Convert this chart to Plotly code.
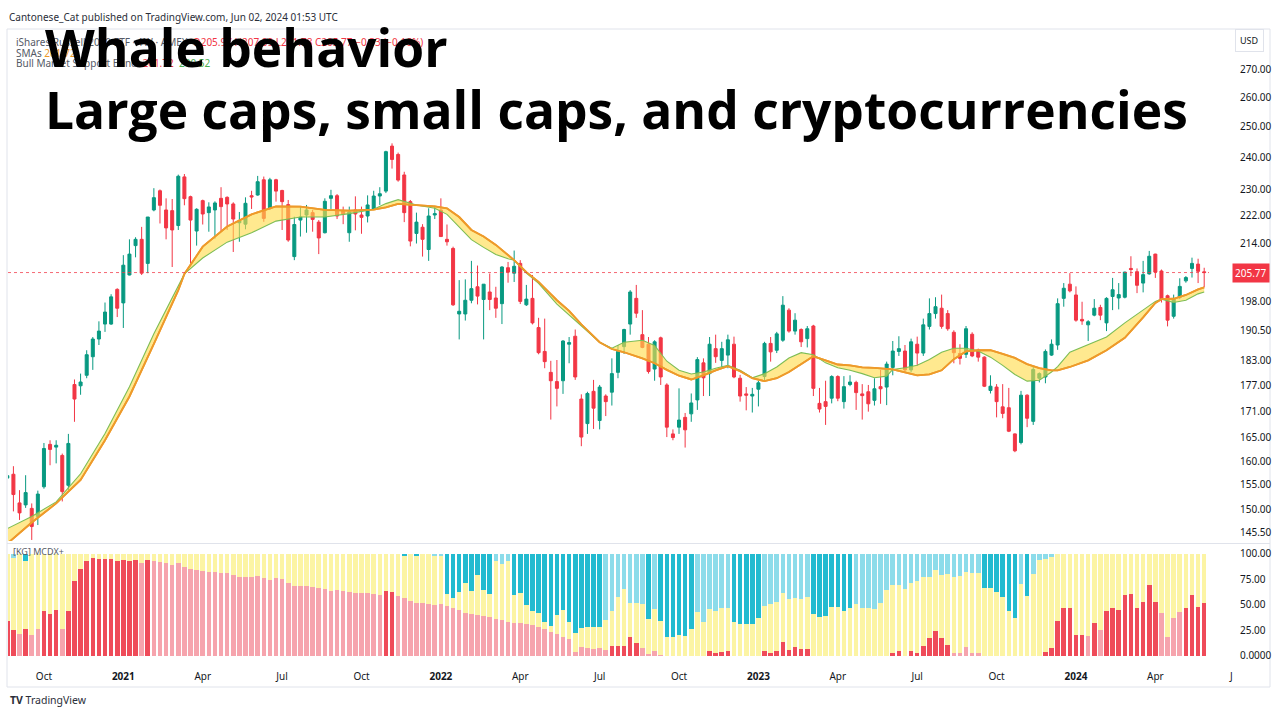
import math
import pandas as pd
import plotly.graph_objects as go

# ---------------- data (IWM weekly) ----------------
first_week = "2020-08-24"
n_weeks = 197

opens = [156.4,157.2,151.3,150.9,150.2,148.6,154.6,163.6,163.0,161.2,
         154.9,177.2,176.9,179.4,183.9,188.3,192.1,192.1,201.2,197.6,
         205.1,213.3,215.1,208.3,223.7,229.5,223.7,223.5,219.1,233.8,
         227.7,217.5,226.5,222.9,223.7,227.2,227.5,225.5,219.9,219.5,
         228.0,228.2,232.9,224.3,232.9,229.6,225.3,210.2,220.7,222.2,
         222.9,220.1,217.0,227.2,228.0,223.4,217.0,223.7,222.2,221.9,
         223.9,227.9,229.4,243.6,240.9,234.4,226.2,216.8,218.6,212.2,
         222.2,223.7,215.1,212.5,194.7,194.7,198.3,201.9,198.5,200.5,
         198.9,197.4,207.1,205.6,208.3,197.1,198.8,191.2,185.2,180.1,
         177.9,178.1,187.0,189.0,173.8,168.2,175.6,168.9,174.5,175.4,
         180.1,186.4,192.1,198.8,189.4,187.0,180.9,188.6,177.1,165.9,
         167.4,169.6,170.4,173.6,182.4,179.8,185.9,183.0,184.3,187.0,
         178.7,175.0,174.5,176.1,179.1,187.2,185.5,188.0,195.7,190.3,
         190.7,188.4,191.6,172.8,173.2,174.0,179.1,173.2,177.2,177.7,
         175.0,175.5,173.5,176.7,176.6,181.3,185.2,185.3,180.7,187.0,
         184.8,191.5,194.8,196.2,194.8,190.0,184.7,184.5,189.5,185.5,
         183.8,175.8,176.6,172.0,171.8,165.9,164.0,174.7,168.7,178.7,
         179.0,184.3,186.8,198.8,202.6,199.7,193.3,191.9,194.4,196.4,
         192.4,199.3,198.9,199.1,206.9,206.0,202.9,205.4,210.9,206.2,
         199.5,194.1,199.1,203.5,206.9,208.1,205.97]
highs = [158.0,158.9,153.9,157.0,151.2,153.8,163.9,164.5,164.5,161.6,
         165.9,178.4,179.8,185.5,188.8,192.8,197.7,199.9,201.5,210.6,
         215.1,215.7,218.7,221.6,230.3,229.9,227.2,227.0,234.5,234.7,
         228.0,224.2,226.8,226.0,226.3,230.6,227.8,226.0,223.1,227.5,
         229.5,234.1,233.9,233.5,233.2,229.8,226.7,221.7,224.7,225.2,
         223.7,220.7,227.2,229.8,228.5,224.7,224.7,227.8,224.7,228.1,
         229.5,230.6,242.1,244.5,241.5,235.4,226.7,222.9,219.5,224.2,
         224.9,227.2,219.4,213.0,203.7,203.9,209.0,207.7,202.6,205.5,
         201.9,207.5,208.7,211.9,209.2,202.4,205.1,193.7,193.5,182.9,
         183.1,188.0,188.8,190.7,174.9,175.5,178.3,177.1,174.9,183.5,
         186.8,190.9,201.0,202.4,195.7,188.8,188.0,188.9,177.5,166.9,
         176.3,170.6,175.1,183.8,183.5,188.8,189.4,187.6,189.4,188.9,
         179.5,176.6,176.4,178.1,187.6,188.8,190.1,199.4,196.2,194.9,
         191.0,191.6,191.9,176.4,178.1,179.4,179.4,179.2,179.4,178.1,
         177.3,177.1,178.7,180.7,182.7,187.8,189.0,186.8,188.4,188.9,
         193.5,198.8,199.1,199.8,195.7,190.5,187.0,191.6,190.0,185.9,
         184.0,179.4,177.3,177.3,176.4,166.0,175.7,174.9,181.5,180.1,
         185.7,188.2,198.8,202.9,205.6,202.0,197.9,193.1,198.6,197.1,
         199.1,204.3,202.9,206.0,210.3,206.9,209.0,211.8,211.0,206.6,
         199.8,199.8,204.2,204.8,209.9,209.6,207.09]
lows = [155.0,149.6,147.9,150.3,144.0,146.9,154.2,159.1,159.5,151.6,
        153.9,168.6,174.8,178.7,180.7,186.8,190.1,191.9,193.9,191.1,
        205.0,210.0,205.1,205.6,223.3,219.7,215.1,207.3,217.8,225.1,
        208.3,213.3,219.4,217.3,215.3,217.5,217.8,211.5,214.4,218.0,
        224.0,228.0,220.2,223.7,226.2,217.8,214.4,209.2,215.9,217.0,
        217.3,210.9,216.8,224.0,221.0,219.5,214.4,217.7,216.7,220.0,
        223.7,225.2,228.8,236.4,232.3,220.1,213.1,213.9,210.2,209.0,
        221.0,215.9,213.3,196.8,188.2,193.0,197.5,197.2,188.2,195.7,
        193.7,192.1,203.0,203.2,197.3,196.8,192.0,184.5,181.1,169.1,
        172.1,175.0,182.3,178.3,163.2,165.9,167.0,166.9,169.9,172.3,
        178.7,184.6,189.4,193.7,186.0,179.8,178.1,177.1,165.2,164.5,
        165.9,162.9,168.6,171.3,174.5,174.5,182.4,181.4,181.1,178.7,
        173.2,171.2,170.7,172.1,178.3,182.7,184.8,187.6,189.9,189.4,
        186.3,186.2,174.5,170.7,167.9,172.8,173.3,171.6,176.8,171.3,
        169.1,170.9,172.3,172.7,172.4,179.4,184.1,180.3,180.1,181.7,
        184.1,190.7,193.5,190.9,190.4,182.3,182.0,183.6,183.8,182.7,
        176.6,175.1,169.6,169.4,166.3,161.9,163.6,167.4,167.9,177.7,
        177.5,184.1,185.6,196.6,200.4,192.7,191.9,187.8,194.1,193.1,
        190.3,195.7,195.9,198.8,204.8,200.2,200.4,205.2,204.3,197.7,
        191.5,193.5,198.6,203.0,204.4,202.9,201.78]
closes = [156.9,153.0,149.3,153.4,146.6,153.1,162.7,162.5,163.4,153.6,
          163.8,173.8,177.8,184.4,188.3,190.3,195.2,199.2,196.2,207.8,
          210.9,215.1,205.6,221.6,227.4,225.1,218.4,217.8,234.0,227.1,
          220.7,223.9,222.5,224.6,225.8,224.7,225.5,221.0,220.4,225.7,
          227.6,232.3,221.2,232.9,229.4,226.2,214.9,219.4,221.6,223.7,
          220.9,215.5,226.3,228.0,221.9,222.5,223.1,222.5,221.5,225.2,
          227.9,228.6,241.8,239.3,232.8,222.9,214.6,220.1,215.1,221.9,
          222.6,215.9,214.4,197.1,195.4,198.3,201.4,199.4,202.6,198.5,
          196.2,207.3,205.9,207.5,198.0,198.6,192.4,184.9,182.7,178.1,
          176.3,187.8,187.4,179.0,165.2,175.1,171.7,176.6,173.2,179.8,
          185.2,190.7,200.5,194.9,186.2,180.3,187.6,179.0,167.4,165.1,
          169.0,166.8,172.9,183.2,178.8,187.0,183.9,185.9,188.1,179.0,
          174.5,174.7,174.9,177.6,187.2,185.1,189.6,197.0,190.3,193.1,
          187.6,190.9,176.3,171.5,172.1,179.1,174.0,176.7,177.8,175.3,
          174.6,172.7,176.2,176.2,182.1,185.3,185.9,180.7,187.6,184.8,
          191.9,194.8,196.6,191.5,190.9,184.9,183.5,190.9,184.1,183.8,
          176.8,176.8,173.2,170.5,166.5,162.2,174.7,169.4,180.8,179.8,
          185.2,187.0,197.4,201.5,200.8,193.1,192.9,192.7,196.2,194.4,
          198.8,201.1,199.8,205.9,206.6,202.3,205.2,210.3,205.9,198.6,
          193.1,198.6,202.0,204.4,208.3,206.1,205.77]

# Bull Market Support Band at these bar numbers (1-based)
band_bar = [1,5,9,13,17,21,25,29,30,33,37,41,45,49,53,57,61,63,65,68,
            71,73,75,77,79,81,83,84,86,88,91,93,95,98,100,102,105,107,109,111,
            113,115,117,119,121,123,125,127,129,131,133,135,137,139,141,143,145,146,148,150,
            152,154,156,158,160,162,164,166,168,170,172,173,175,178,181,184,187,189,190,192,
            194,196,197]
band_sma = [143.3,147.4,151.2,156.0,164.5,174.4,187.1,201.0,205.4,213.0,
            218.8,222.4,224.8,224.7,223.7,223.5,223.8,224.5,225.5,225.2,
            224.8,224.2,221.6,217.8,215.9,213.5,210.5,209.2,205.9,203.2,
            198.3,195.5,192.0,187.5,185.8,185.0,183.5,182.3,180.7,179.3,
            178.4,179.4,180.6,181.6,180.4,178.7,178.0,178.7,180.2,182.2,
            184.0,183.0,182.0,181.8,181.3,181.2,181.0,180.8,180.1,179.4,
            179.6,180.6,183.3,185.2,185.5,185.5,184.6,183.6,182.1,181.1,
            180.6,180.6,181.4,183.0,185.5,188.6,193.8,197.6,198.6,198.7,
            199.7,201.2,201.72]
band_ema = [146.2,148.6,151.5,157.3,166.0,176.7,189.6,202.3,205.4,209.8,
            214.3,217.0,220.4,221.6,221.6,222.6,223.9,225.6,226.8,225.2,
            224.2,222.4,218.6,215.0,212.8,210.8,209.6,209.2,205.6,202.8,
            197.3,194.5,191.5,187.5,186.0,187.5,188.0,186.7,182.8,180.6,
            179.7,180.2,181.1,181.8,180.6,178.8,179.8,181.4,183.6,184.9,
            184.4,182.4,181.2,180.6,179.8,178.8,179.2,180.8,181.2,181.8,
            183.2,185.0,186.0,186.0,185.3,183.8,181.8,179.6,178.0,178.2,
            180.2,181.5,185.0,186.8,188.8,192.4,195.8,198.0,198.6,197.7,
            198.3,200.0,200.52]

# MCDX+ : banker (bottom, red) and retail (top, cyan) percentages
banker = [34,25.5,22,26.5,21,26.5,44,41,45,26.5,
          44.5,73.5,85,93.5,96,95,95,95,93.5,94,
          93.5,94,91,94,93.5,92.5,91,89,91,87.5,
          85,84,83.5,82.5,82.5,81.5,81,79.4,77.8,77.8,
          77.8,78.4,76,74.5,76,75,72,69,69,69,
          68,66.3,65.4,64,64.7,64,63,62,61.4,61.4,
          60.5,59.8,64,62.4,58.8,56.5,54,51.6,52.3,51,
          50,51,49,46.7,45,41.8,41.2,40.2,39.2,37.9,
          36.3,35.3,33.7,32.7,32,31.4,30.4,28.1,26.1,23.9,
          21.6,19,16.3,4.2,9.2,7.5,6.5,7.5,5.9,9.8,
          9.8,9.8,19,12.4,7.5,2,5.2,1,0,0,
          0,0,0,0,0,4.9,2.6,3.9,5.2,0,
          0,0,0,0,4.9,2.6,5.2,14,5.9,9.2,
          6.5,7.2,0,0,0,0,0,0,0,0,
          0,0,0,0,0,2.6,4.9,0,4.9,2.6,
          9.8,17.3,24.8,17.3,10.8,2.6,2.6,8.5,2.6,2.6,
          0,0,0,0,0,0,0,0,0,0,
          4.2,7.5,34.6,46.7,46.7,20.6,20.6,19.6,32,25.5,
          44.4,46.7,45,59.8,60.8,46.7,53.3,69.6,53.3,42.5,
          19,37,43.5,46.7,59.8,48.4,51.6]
banker_strong = [1,1,0,1,0,0,1,1,1,0, 1,1,1,1,1,1,1,1,1,1,
                 1,1,0,1,0,0,0,0,0,0, 0,0,0,0,0,0,0,0,0,0,
                 0,0,0,0,0,0,0,0,0,0, 0,0,0,0,0,0,0,0,0,0,
                 0,0,1,1,0,0,0,0,0,0, 0,0,0,0,0,0,0,0,0,0,
                 0,0,0,0,0,0,0,0,0,0, 0,0,0,0,0,0,0,0,0,1,
                 1,1,1,1,0,0,0,0,0,0, 0,0,0,0,0,1,1,1,1,0,
                 0,0,0,0,1,1,1,1,1,1, 1,1,0,0,0,0,0,0,0,0,
                 0,0,0,0,0,1,1,0,1,1, 1,1,1,1,1,0,0,0,0,0,
                 0,0,0,0,0,0,0,0,0,0, 1,1,1,1,1,1,1,0,1,0,
                 1,1,1,1,1,1,1,1,1,0, 0,0,0,1,1,1,1]
retail = [0,4,0,6.5,0,0,0,0,0,0,
          0,0,0,0,0,0,0,0,0,0,
          0,0,0,0,0,0,0,0,0,0,
          0,0,0,0,0,0,0,0,0,0,
          0,0,0,0,0,0,0,0,0,0,
          0,0,0,0,0,0,0,0,0,0,
          0,0,0,0,0,2,0,2,0,0,
          2,2,39,43.5,37,28.8,36,20.6,35.3,39,
          6.5,9.8,6.5,40,38,50,55.6,57.5,66.3,70.6,
          59.8,55,66.3,77.8,72.9,71.2,72,72,64.7,55.6,
          41.8,34.6,48.4,48,49,64,54,66,81.7,81.7,
          79.4,80.4,73.9,56.5,66.3,54,55.6,53.3,52.6,66.3,
          68.6,68.6,68.6,63,51,49,46.7,38,44.4,43.5,
          44.4,41.8,58.8,62,60.8,51.6,51.6,55.9,53.3,49,
          52.6,53.3,54.2,47.7,35.3,30.4,30.4,34.6,28.8,26.1,
          22.9,22.9,15.7,20.6,19.9,22.2,21.6,17.3,19,19,
          33.7,33.7,36.9,41.8,55.6,63,29.7,41.2,19.6,5.9,
          4.9,3.3,0,0,0,0,0,0,0,0,
          0,0,0,0,0,0,0,0,0,0,
          0,0,0,0,0,0,0]
retail_strong = [0,0,0,1,0,0,0,0,0,0, 0,0,0,0,0,0,0,0,0,0,
                 0,0,0,0,0,0,0,0,0,0, 0,0,0,0,0,0,0,0,0,0,
                 0,0,0,0,0,0,0,0,0,0, 0,0,0,0,0,0,0,0,0,0,
                 0,0,0,0,0,1,0,1,0,0, 0,0,1,1,1,1,1,1,1,1,
                 0,0,0,1,1,1,1,1,1,1, 1,1,1,1,1,1,1,1,0,0,
                 0,0,0,0,0,1,0,1,1,1, 1,1,1,0,0,0,0,0,0,1,
                 1,1,1,1,0,0,0,0,0,0, 0,0,1,1,1,1,1,1,1,0,
                 0,0,0,0,0,0,0,0,0,0, 0,0,0,0,0,0,0,0,0,0,
                 1,1,1,1,1,1,0,1,0,0, 0,0,0,0,0,0,0,0,0,0,
                 0,0,0,0,0,0,0,0,0,0, 0,0,0,0,0,0,0]

tick_dates = ["2020-10-05","2021-01-04","2021-04-05","2021-07-05","2021-10-04",
              "2022-01-03","2022-04-04","2022-07-04","2022-10-03","2023-01-02",
              "2023-04-03","2023-07-03","2023-10-02","2024-01-01","2024-04-01"]
tick_labels = ["Oct","<b>2021</b>","Apr","Jul","Oct","<b>2022</b>","Apr","Jul","Oct",
               "<b>2023</b>","Apr","Jul","Oct","<b>2024</b>","Apr"]
price_ticks = [145.5,150,155,160,165,171,177,183,190.5,198,214,222,230,240,250,260,270]
mcdx_ticks = [0,25,50,75,100]
mcdx_labels = ["0.0000","25.00","50.00","75.00","100.00"]

# ---------------- figure ----------------
weeks = pd.date_range(first_week, periods=n_weeks, freq="7D")
band_x = [weeks[i - 1] for i in band_bar]
x_start = pd.Timestamp("2020-08-24 19:00")
x_end = pd.Timestamp("2024-06-01 12:00")

UP, DOWN = "#089981", "#f23645"
RED_STRONG, RED_WEAK = "#ef4b59", "#f6a4ad"
CY_STRONG, CY_WEAK = "#22bbd0", "#8cdcea"
YELLOW = "#fcf4a4"
TXT = "#131722"
FONT = "Noto Sans"

fig = go.Figure()

# support band
fig.add_trace(go.Scatter(x=band_x, y=band_sma, mode="lines", line=dict(color="#ee9a2a", width=1.8),
                         hoverinfo="skip", xaxis="x", yaxis="y"))
fig.add_trace(go.Scatter(x=band_x, y=band_ema, mode="lines", line=dict(color="#7dbd55", width=1.1),
                         fill="tonexty", fillcolor="rgba(255,220,75,0.62)",
                         hoverinfo="skip", xaxis="x", yaxis="y"))
fig.add_trace(go.Scatter(x=band_x, y=band_sma, mode="lines", line=dict(color="#ee9a2a", width=1.8),
                         hoverinfo="skip", xaxis="x", yaxis="y"))

# last price dotted line
last = closes[-1]
fig.add_trace(go.Scatter(x=[x_start, x_end], y=[last, last], mode="lines",
                         line=dict(color="rgba(242,54,69,0.75)", width=1, dash="dot"), hoverinfo="skip",
                         xaxis="x", yaxis="y"))

# candles
fig.add_trace(go.Candlestick(x=weeks, open=opens, high=highs, low=lows, close=closes,
                             increasing=dict(line=dict(color=UP, width=1), fillcolor=UP),
                             decreasing=dict(line=dict(color=DOWN, width=1), fillcolor=DOWN),
                             whiskerwidth=0, xaxis="x", yaxis="y", hoverinfo="skip"))

# MCDX+ stacked columns
bw = 5.25 * 86400000
yellow_h = [100 - b - c for b, c in zip(banker, retail)]
fig.add_trace(go.Bar(x=weeks, y=banker, base=0, width=bw,
                     marker=dict(color=[RED_STRONG if s else RED_WEAK for s in banker_strong], line=dict(width=0)),
                     xaxis="x", yaxis="y2", hoverinfo="skip"))
fig.add_trace(go.Bar(x=weeks, y=yellow_h, base=banker, width=bw,
                     marker=dict(color=YELLOW, line=dict(width=0)),
                     xaxis="x", yaxis="y2", hoverinfo="skip"))
fig.add_trace(go.Bar(x=weeks, y=retail, base=[100 - c for c in retail], width=bw,
                     marker=dict(color=[CY_STRONG if s else CY_WEAK for s in retail_strong], line=dict(width=0)),
                     xaxis="x", yaxis="y2", hoverinfo="skip"))

# layout geometry (pixels -> paper)
L, T, R, B = 8, 28, 71, 58
W = 1280 - L - R
H = 720 - T - B


def px(x):
    return (x - L) / W


def py(y):
    return (720 - B - y) / H


tickfont = dict(family=FONT, size=10, color=TXT)
fig.update_layout(
    width=1280, height=720, margin=dict(l=L, r=R, t=T, b=B),
    paper_bgcolor="white", plot_bgcolor="white", showlegend=False,
    barmode="overlay", bargap=0,
    xaxis=dict(type="date", range=[x_start, x_end], domain=[0, 1], anchor="y2",
               tickmode="array", tickvals=tick_dates, ticktext=tick_labels,
               showgrid=False, zeroline=False, showline=False, ticks="",
               tickfont=tickfont, ticklabelstandoff=7, rangeslider=dict(visible=False)),
    yaxis=dict(type="log", domain=[py(541), 1], anchor="x", side="right",
               range=[math.log10(143.8), math.log10(285.2)],
               tickmode="array", tickvals=price_ticks, ticktext=[f"{v:.2f}" for v in price_ticks],
               showgrid=False, zeroline=False, showline=False, ticks="", ticklen=0,
               ticklabelstandoff=30, tickfont=tickfont),
    yaxis2=dict(domain=[0, py(546)], anchor="x", side="right", range=[-5.9, 107.8],
                tickmode="array", tickvals=mcdx_ticks, ticktext=mcdx_labels,
                showgrid=False, zeroline=False, showline=False, ticks="", ticklen=0,
                ticklabelstandoff=30, tickfont=tickfont),
)

# frame and panel separator
fig.add_shape(type="rect", xref="paper", yref="paper", x0=px(7), x1=px(1270), y0=py(687), y1=py(29),
              line=dict(color="#e0e3eb", width=1), fillcolor="rgba(0,0,0,0)", layer="below")
fig.add_shape(type="line", xref="paper", yref="paper", x0=px(7), x1=px(1270), y0=py(543.5), y1=py(543.5),
              line=dict(color="#e0e3eb", width=1))

ann = []
ann.append(dict(x=px(7), y=py(17), xref="paper", yref="paper", xanchor="left", yanchor="middle",
                text="Cantonese_Cat published on TradingView.com, Jun 02, 2024 01:53 UTC",
                showarrow=False, font=dict(family=FONT, size=10, color="#2a2e39")))
red_vals = "O205.97 H207.09 L201.78 C205.77 −0.33 (−0.16%)"
ann.append(dict(x=px(14), y=py(42), xref="paper", yref="paper", xanchor="left", yanchor="middle",
                text=f"iShares Russell 2000 ETF · 1W · AMEX  <span style='color:{DOWN}'>{red_vals}</span>",
                showarrow=False, font=dict(family=FONT, size=10, color="#555a66")))
ann.append(dict(x=px(14), y=py(53), xref="paper", yref="paper", xanchor="left", yanchor="middle",
                text="SMAs <span style='color:#ee9a2a'>201.72</span>",
                showarrow=False, font=dict(family=FONT, size=10, color="#555a66")))
ann.append(dict(x=px(14), y=py(63.5), xref="paper", yref="paper", xanchor="left", yanchor="middle",
                text=f"Bull Market Support Band  <span style='color:{DOWN}'>201.72</span>  "
                     f"<span style='color:#4caf50'>200.52</span>",
                showarrow=False, font=dict(family=FONT, size=10, color="#555a66")))
ann.append(dict(x=px(11), y=py(551), xref="paper", yref="paper", xanchor="left", yanchor="middle",
                text="[KG] MCDX+", showarrow=False, font=dict(family=FONT, size=9, color="#555a66")))
ann.append(dict(x=px(1249), y=py(40), xref="paper", yref="paper", xanchor="center", yanchor="middle",
                text="USD", showarrow=False, bordercolor="#e0e3eb", borderwidth=1, borderpad=4,
                font=dict(family=FONT, size=9, color=TXT)))
ann.append(dict(x=px(1232), y=math.log10(last), xref="paper", yref="y", xanchor="left", yanchor="middle",
                text=f"{last:.2f}", showarrow=False, bgcolor=DOWN, borderpad=2,
                font=dict(family=FONT, size=10, color="white")))
# clipped "Jul" label beyond the last bar
ann.append(dict(x=px(1231), y=py(676), xref="paper", yref="paper", xanchor="center", yanchor="middle",
                text="J", showarrow=False, font=dict(family=FONT, size=10, color=TXT)))
ann.append(dict(x=px(8), y=py(700), xref="paper", yref="paper", xanchor="left", yanchor="middle",
                text="<b>TV</b> TradingView", showarrow=False,
                font=dict(family=FONT, size=10.5, color="#2a2e39")))
# overlay title
ann.append(dict(x=px(43), y=py(47), xref="paper", yref="paper", xanchor="left", yanchor="middle",
                text="Whale behavior", showarrow=False,
                font=dict(family="Open Sans", size=51.5, color="black", weight="bold")))
ann.append(dict(x=px(43), y=py(109), xref="paper", yref="paper", xanchor="left", yanchor="middle",
                text="Large caps, small caps, and cryptocurrencies", showarrow=False,
                font=dict(family="Open Sans", size=51.5, color="black", weight="bold")))
fig.update_layout(annotations=ann)

fig.write_html("out.html")
